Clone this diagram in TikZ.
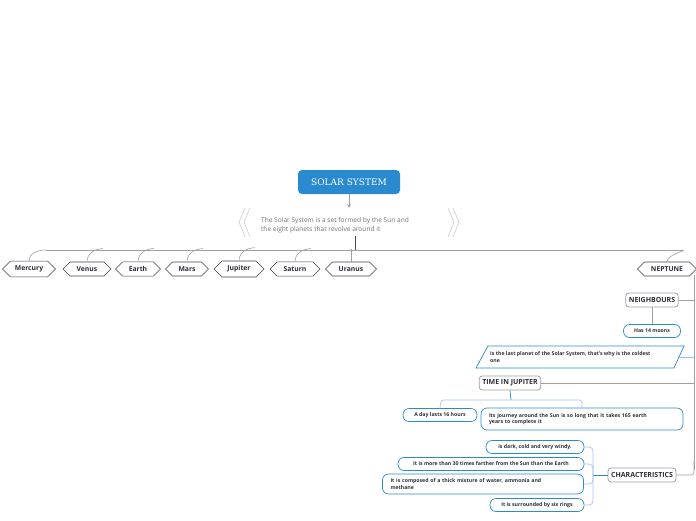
\documentclass[tikz,border=0pt]{standalone}
\usepackage{fontspec}
\setmainfont{Open Sans}
\newfontfamily\titlefont{DejaVu Serif}
\usetikzlibrary{shapes.geometric,shapes.misc}
\definecolor{bl}{HTML}{2A8AD0}
\definecolor{lbl}{HTML}{A9C4F5}
\definecolor{gr}{HTML}{A0A0A0}
\definecolor{tx}{HTML}{2E2E3A}
\begin{document}
\begin{tikzpicture}[x=1pt,y=-1pt,
 planet/.style={draw=black!75,line width=0.6pt,chamfered rectangle,chamfered rectangle xsep=6pt,chamfered rectangle angle=45,chamfered rectangle corners={north west,south west,north east,south east},minimum height=12pt,inner sep=1pt,font=\fontsize{6.8}{7}\selectfont\bfseries,text=tx},
 topic/.style={draw=gr,line width=0.8pt,rounded corners=3pt,minimum height=14pt,inner sep=3pt,font=\fontsize{7}{7}\selectfont\bfseries,text=tx},
 leaf/.style={draw=bl,line width=0.7pt,rounded corners=6pt,minimum height=13pt,inner sep=2pt,font=\fontsize{5.2}{6.5}\selectfont\bfseries,text=tx,align=left},
 chev/.style={black!20,line width=0.6pt},
 con/.style={gr,line width=0.6pt},
 bcon/.style={lbl,line width=0.7pt}]
\useasboundingbox (0,0) rectangle (696,520);
% title
\node[fill=bl,rounded corners=4pt,minimum width=102pt,minimum height=24pt,text=white,font=\titlefont\fontsize{9}{10}\selectfont] (title) at (349,182) {SOLAR SYSTEM};
\node[align=left,text=gray!90!black,font=\fontsize{6.6}{9}\selectfont] (desc) at (335,225) {The Solar System is a set formed by the Sun and\\the eight planets that revolve around it};
\draw[chev] (245,208) -- (239,222) -- (245,237) (250,208) -- (244,222) -- (250,237);
\draw[chev] (448,208) -- (454,222) -- (448,237) (453,208) -- (459,222) -- (453,237);
\draw[gr,line width=0.8pt,-stealth] (title.south) -- (349,208);
% planets
\node[planet,minimum width=53pt] (me) at (29,269) {Mercury};
\node[planet,minimum width=48pt] (ve) at (87,269) {Venus};
\node[planet,minimum width=45pt] (ea) at (138,269) {Earth};
\node[planet,minimum width=43pt] (ma) at (187,269) {Mars};
\node[planet,minimum width=50pt] (ju) at (239,269) {Jupiter};
\node[planet,minimum width=50pt] (sa) at (295,269) {Saturn};
\node[planet,minimum width=51pt] (ur) at (351,269) {Uranus};
\node[planet,minimum width=59pt] (ne) at (667,269) {NEPTUNE};
\coordinate (hub) at (355,250);
\coordinate (hl) at (46,250);
\coordinate (hr) at (682,250);
\draw[black!70,line width=1pt] (355,236) -- (hub);
\draw[con] (hl) -- (hr);
\draw[con] (hl) to[out=180,in=90] (me.north);
\foreach \p in {ve,ea,ma,ju,sa}{
 \draw[con] (\p.north) to[out=90,in=180] ++(16,-13);}
\draw[con] (ur.north) -- ++(0,-13);
\draw[con] (hr) to[out=0,in=90] (ne.north);
% neptune spine
\coordinate (sp) at (694,275);
\draw[con] (sp) -- (694,470);
\node[topic] (nb) at (652,300) {NEIGHBOURS};
\draw[con] (nb.east) -- (694,300);
\node[leaf,minimum width=57pt] (moons) at (652,331) {Has 14 moons};
\draw[con] (nb.south) -- (moons.north);
\draw[bl,line width=0.7pt] (476,368) -- (488,346) -- (684,346) -- (674,368) -- cycle;
\node[anchor=west,inner sep=0pt,font=\fontsize{5.2}{6.5}\selectfont\bfseries,text=tx,align=left] (last) at (490,357) {Is the last planet of the Solar System, that's why is the coldest\\one};
\draw[bl!50,line width=0.8pt] (679,357) -- (694,357);
\node[topic] (tj) at (510,383) {TIME IN JUPITER};
\draw[con] (tj.east) -- (694,383);
\node[leaf,minimum width=74pt] (day) at (440,415) {A day lasts 16 hours};
\node[leaf,minimum width=202pt,minimum height=22pt,text width=186pt] (jour) at (582,419) {Its journey around the Sun is so long that it takes 165 earth\\years to complete it};
\draw[bl,line width=0.7pt] (tj.south) -- (511,400);
\draw[bcon,rounded corners=3pt] (day.north) -- (441,400) -- (582,400) -- (jour.north);
\node[topic] (ch) at (642,475) {CHARACTERISTICS};
\draw[con,rounded corners=3pt] (ch.east) -- (694,475) -- (694,462);
\node[leaf,minimum width=98pt] (c1) at (535,447) {is dark, cold and very windy.};
\node[leaf,minimum width=186pt] (c2) at (491,464) {It is more than 30 times farther from the Sun than the Earth};
\node[leaf,minimum width=201pt,minimum height=20pt,text width=185pt] (c3) at (483,484) {It is composed of a thick mixture of water, ammonia and\\methane};
\node[leaf,minimum width=94pt] (c4) at (537,505) {It is surrounded by six rings};
\draw[bl,line width=0.8pt] (ch.west) -- (593,475);
\foreach \c in {c1,c2,c3,c4}{
 \draw[bcon,rounded corners=4pt] (593,475) |- (\c.east);}
\end{tikzpicture}
\end{document}
